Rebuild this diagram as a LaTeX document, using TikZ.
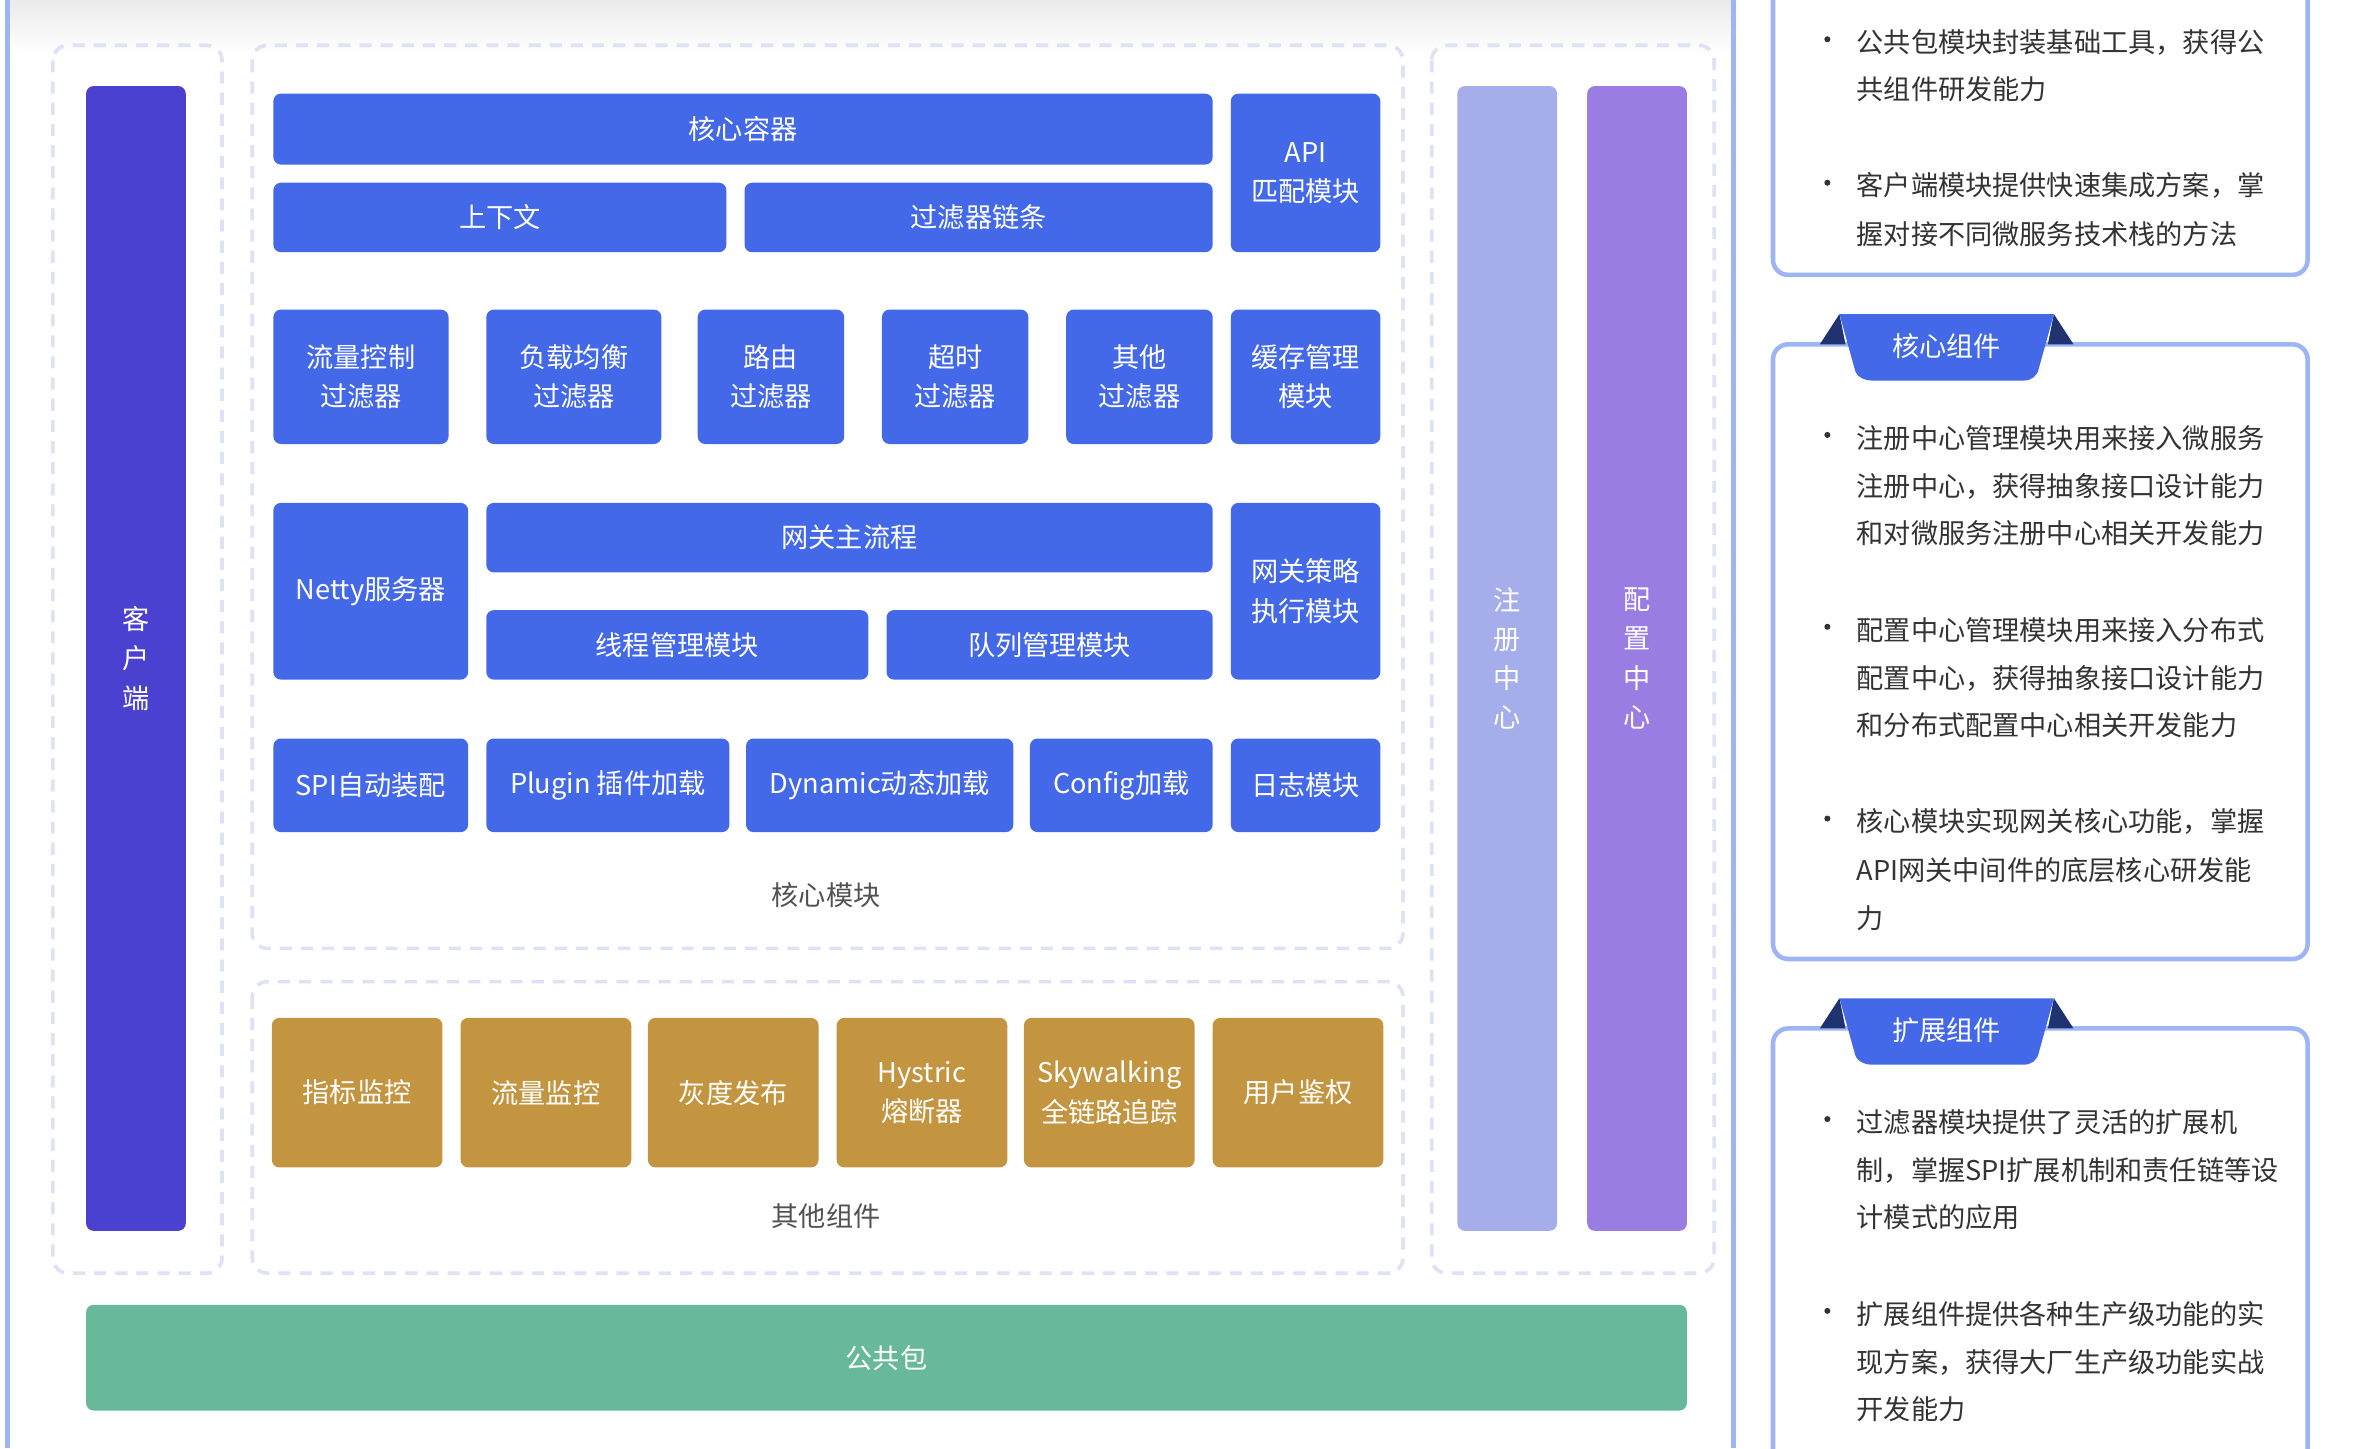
\documentclass[tikz,border=0pt]{standalone}
\usepackage{fontspec}
\setmainfont{Noto Sans CJK SC}
\usetikzlibrary{shapes.geometric}
\definecolor{cblue}{HTML}{4369E8}
\definecolor{cclient}{HTML}{4A41D0}
\definecolor{cgold}{HTML}{C49540}
\definecolor{creg}{HTML}{A5ADEB}
\definecolor{ccfg}{HTML}{9A7DE3}
\definecolor{cgreen}{HTML}{67B99A}
\definecolor{cdash}{HTML}{DDE2F5}
\definecolor{cpanel}{HTML}{9DB5F5}
\definecolor{ctext}{HTML}{333333}
\definecolor{cdark}{HTML}{1E3370}
\tikzset{
 bx/.style={fill=cblue,rounded corners=2.5pt,text=white,align=center,inner sep=0pt,font=\fontsize{9}{13}\selectfont},
 gx/.style={bx,fill=cgold},
 dbox/.style={draw=cdash,line width=1.2pt,dash pattern=on 4pt off 3pt,rounded corners=5pt},
 pan/.style={draw=cpanel,line width=1.5pt,rounded corners=5pt},
 lab/.style={text=ctext!85,font=\fontsize{9}{11}\selectfont},
 ln/.style={anchor=west,text=ctext,font=\fontsize{9}{11}\selectfont,inner sep=0pt},
 dot/.style={circle,fill=ctext,inner sep=0pt,minimum size=2pt}
}
\newcommand\bx[7]{\node[#1,minimum width={(#5-#3)*0.5pt},minimum height={(#6-#4)*0.5pt}] (#2) at ({(#3+#5)/2},{(#4+#6)/2}) {#7};}
\begin{document}
\begin{tikzpicture}[x=0.5pt,y=-0.5pt]
\useasboundingbox (0,0) rectangle (1568,959);
\fill[white] (0,0) rectangle (1568,959);
\shade[top color=black!8,bottom color=white] (5,0) rectangle (1148,36);
\draw[cpanel,line width=1.5pt] (5,0) -- (5,959) coordinate (lb);
\draw[cpanel,line width=1.5pt] (1148,0) -- (1148,959) coordinate (rb);
% dashed groups
\draw[dbox] (35,30) rectangle (147,843);
\draw[dbox] (167,30) rectangle (929,628);
\draw[dbox] (167,650) rectangle (929,843);
\draw[dbox] (948,30) rectangle (1135,843);
% bars
\bx{bx,fill=cclient}{client}{57}{57}{123}{815}{客\\户\\端}
\bx{bx,fill=creg}{reg}{965}{57}{1031}{815}{注\\册\\中\\心}
\bx{bx,fill=ccfg}{cfg}{1051}{57}{1117}{815}{配\\置\\中\\心}
\bx{bx,fill=cgreen}{common}{57}{864}{1117}{934}{公共包}
% core
\bx{bx}{container}{181}{62}{803}{109}{核心容器}
\bx{bx}{ctx}{181}{121}{481}{167}{上下文}
\bx{bx}{chain}{493}{121}{803}{167}{过滤器链条}
\bx{bx}{api}{815}{62}{914}{167}{API\\匹配模块}
\bx{bx}{f1}{181}{205}{297}{294}{流量控制\\过滤器}
\bx{bx}{f2}{322}{205}{438}{294}{负载均衡\\过滤器}
\bx{bx}{f3}{462}{205}{559}{294}{路由\\过滤器}
\bx{bx}{f4}{584}{205}{681}{294}{超时\\过滤器}
\bx{bx}{f5}{706}{205}{803}{294}{其他\\过滤器}
\bx{bx}{cache}{815}{205}{914}{294}{缓存管理\\模块}
\bx{bx}{netty}{181}{333}{310}{450}{Netty服务器}
\bx{bx}{main}{322}{333}{803}{379}{网关主流程}
\bx{bx}{thread}{322}{404}{575}{450}{线程管理模块}
\bx{bx}{queue}{587}{404}{803}{450}{队列管理模块}
\bx{bx}{policy}{815}{333}{914}{450}{网关策略\\执行模块}
\bx{bx}{spi}{181}{489}{310}{551}{SPI自动装配}
\bx{bx}{plugin}{322}{489}{483}{551}{Plugin 插件加载}
\bx{bx}{dyn}{494}{489}{671}{551}{Dynamic动态加载}
\bx{bx}{conf}{682}{489}{803}{551}{Config加载}
\bx{bx}{log}{815}{489}{914}{551}{日志模块}
\node[lab] (corelab) at (547,593) {核心模块};
% other
\bx{gx}{g1}{180}{674}{293}{773}{指标监控}
\bx{gx}{g2}{305}{674}{418}{773}{流量监控}
\bx{gx}{g3}{429}{674}{542}{773}{灰度发布}
\bx{gx}{g4}{554}{674}{667}{773}{Hystric\\熔断器}
\bx{gx}{g5}{678}{674}{791}{773}{Skywalking\\全链路追踪}
\bx{gx}{g6}{803}{674}{916}{773}{用户鉴权}
\node[lab] (otherlab) at (547,805) {其他组件};
% right panels
\draw[pan] (1174,-10) rectangle (1528,182);
\draw[pan] (1174,228) rectangle (1528,635);
\draw[pan] (1174,681) rectangle (1528,975);
\foreach \y/\n in {208/t1,661/t2}{
 \fill[cdark] (1218,\y) -- (1205,\y+20) -- (1222,\y+20) -- cycle;
 \fill[cdark] (1360,\y) -- (1373,\y+20) -- (1356,\y+20) -- cycle;
 \fill[cblue] (1218,\y) -- (1360,\y) -- (1350,\y+36) to[out=-100,in=0] (1340,\y+44) -- (1240,\y+44) to[out=180,in=-80] (1228,\y+36) -- cycle;
}
\node[text=white,font=\fontsize{9}{11}\selectfont] (tab1) at (1289,229) {核心组件};
\node[text=white,font=\fontsize{9}{11}\selectfont] (tab2) at (1289,682) {扩展组件};
\foreach \y in {28,123,290,417,544,743,870} \node[dot] at (1210,\y-2) {};
\node[ln] at (1229,28) {公共包模块封装基础工具，获得公};
\node[ln] at (1229,59) {共组件研发能力};
\node[ln] at (1229,123) {客户端模块提供快速集成方案，掌};
\node[ln] at (1229,155) {握对接不同微服务技术栈的方法};
\node[ln] at (1229,290) {注册中心管理模块用来接入微服务};
\node[ln] at (1229,322) {注册中心，获得抽象接口设计能力};
\node[ln] at (1229,353) {和对微服务注册中心相关开发能力};
\node[ln] at (1229,417) {配置中心管理模块用来接入分布式};
\node[ln] at (1229,449) {配置中心，获得抽象接口设计能力};
\node[ln] at (1229,480) {和分布式配置中心相关开发能力};
\node[ln] at (1229,544) {核心模块实现网关核心功能，掌握};
\node[ln] at (1229,576) {API网关中间件的底层核心研发能};
\node[ln] at (1229,608) {力};
\node[ln] at (1229,743) {过滤器模块提供了灵活的扩展机};
\node[ln] at (1229,775) {制，掌握SPI扩展机制和责任链等设};
\node[ln] at (1229,806) {计模式的应用};
\node[ln] at (1229,870) {扩展组件提供各种生产级功能的实};
\node[ln] at (1229,902) {现方案，获得大厂生产级功能实战};
\node[ln] at (1229,933) {开发能力};
\end{tikzpicture}
\end{document}
